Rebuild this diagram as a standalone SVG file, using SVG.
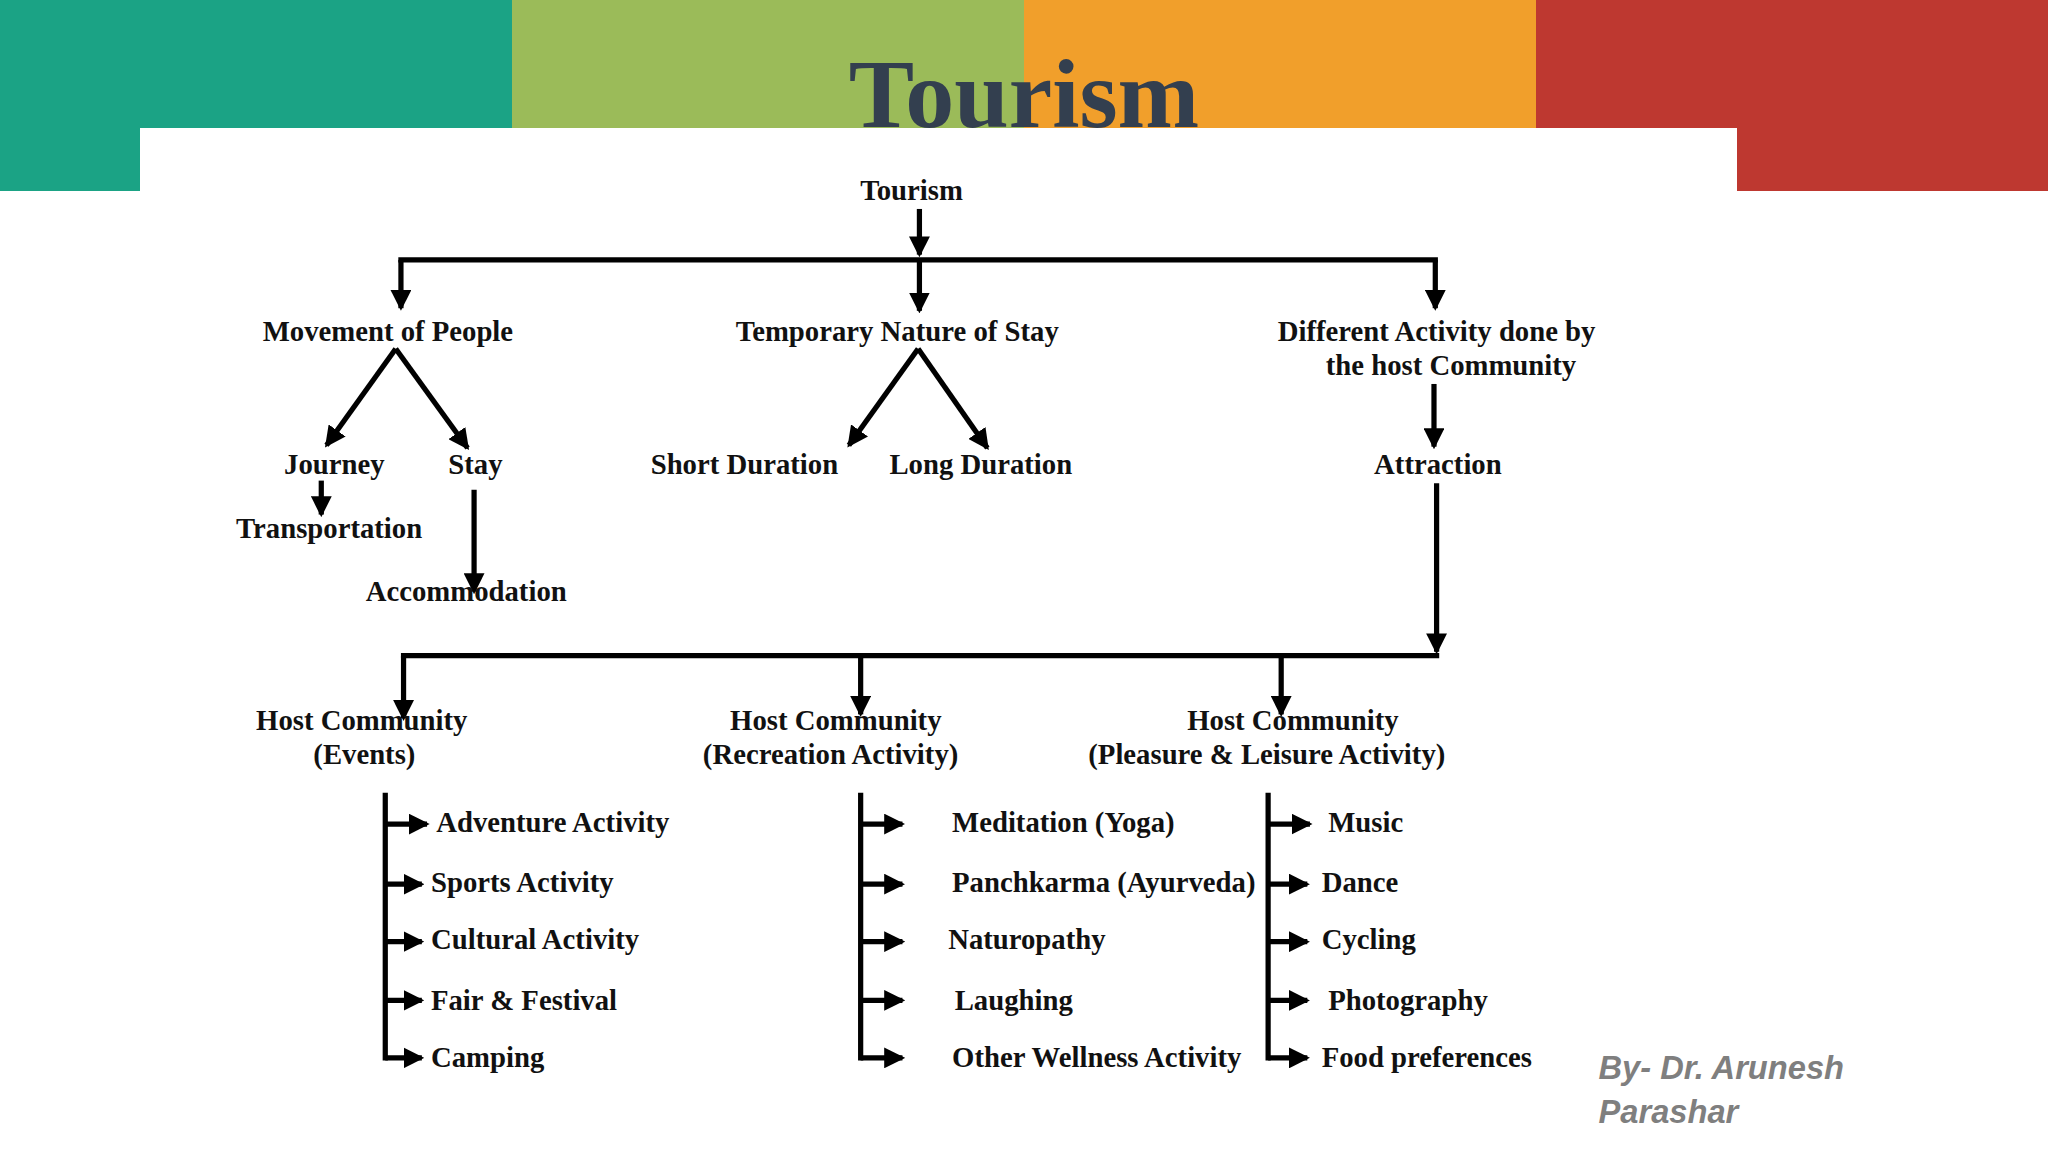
<svg xmlns="http://www.w3.org/2000/svg" width="2048" height="1152" viewBox="0 0 2048 1152">
<defs>
<marker id="ah" markerUnits="userSpaceOnUse" markerWidth="16" markerHeight="16" viewBox="0 0 16 16" refX="14" refY="8" orient="auto"><path d="M0,0 L16,8 L0,16 Z" fill="#000"/></marker>
</defs>
<style>
.t{font-family:"Liberation Serif",serif;font-weight:bold;font-size:22px;fill:#111;text-anchor:middle}
.l{font-family:"Liberation Serif",serif;font-weight:bold;font-size:22px;fill:#111}
.c{stroke:#000;stroke-width:4;fill:none}
.a{stroke:#000;stroke-width:4;fill:none;marker-end:url(#ah)}
</style>
<rect width="2048" height="1152" fill="#fff"/>
<g id="banner">
<rect x="0" y="0" width="512" height="191" fill="#1BA385"/>
<rect x="512" y="0" width="512" height="191" fill="#9BBB59"/>
<rect x="1024" y="0" width="512" height="191" fill="#F19F2B"/>
<rect x="1536" y="0" width="512" height="191" fill="#BE3830"/>
<rect x="140" y="128" width="1597" height="1024" fill="#fff"/>
<text x="1024" y="127" style="font-family:'Liberation Serif',serif;font-weight:bold;font-size:98px;fill:#333F4F;text-anchor:middle">Tourism</text>
</g>
<g transform="scale(1.306)">
<g id="connectors">
<path class="a" d="M704,160 V195"/>
<path class="c" d="M305,199 H1101"/>
<path class="a" d="M307,199 V236"/><path class="a" d="M704,199 V238"/><path class="a" d="M1099,199 V236"/>
<path class="a" d="M303,267 L250,341"/><path class="a" d="M303,267 L358,343"/>
<path class="a" d="M703,267 L650,341"/><path class="a" d="M703,267 L756,343"/>
<path class="a" d="M1098,294 V342"/>
<path class="a" d="M246,368 V394"/>
<path class="a" d="M363,375 V453"/>
<path class="a" d="M1100,370 V499"/>
<path class="c" d="M307,502 H1102"/>
<path class="a" d="M309,502 V550"/><path class="a" d="M659,502 V547"/><path class="a" d="M981,502 V547"/>
<path class="c" d="M295,607 V812"/><path class="c" d="M659,607 V812"/><path class="c" d="M971,607 V812"/>
<path class="a" d="M295,631 H327"/><path class="a" d="M295,677 H323"/><path class="a" d="M295,721 H323"/><path class="a" d="M295,766 H323"/><path class="a" d="M295,810 H323"/>
<path class="a" d="M659,631 H691"/><path class="a" d="M659,677 H691"/><path class="a" d="M659,721 H691"/><path class="a" d="M659,766 H691"/><path class="a" d="M659,810 H691"/>
<path class="a" d="M971,631 H1003"/><path class="a" d="M971,677 H1001"/><path class="a" d="M971,721 H1001"/><path class="a" d="M971,766 H1001"/><path class="a" d="M971,810 H1001"/>
</g>
<g id="n-tourism"><text class="t" x="698" y="153">Tourism</text></g>
<g id="n-movement"><text class="t" x="297" y="261">Movement of People</text></g>
<g id="n-temporary"><text class="t" x="687" y="261">Temporary Nature of Stay</text></g>
<g id="n-different"><text class="t" x="1100" y="261">Different Activity done by</text><text class="t" x="1111" y="287">the host Community</text></g>
<g id="n-journey"><text class="t" x="256" y="363">Journey</text></g>
<g id="n-stay"><text class="t" x="364" y="363">Stay</text></g>
<g id="n-short"><text class="t" x="570" y="363">Short Duration</text></g>
<g id="n-long"><text class="t" x="751" y="363">Long Duration</text></g>
<g id="n-attraction"><text class="t" x="1101" y="363">Attraction</text></g>
<g id="n-transport"><text class="t" x="252" y="412">Transportation</text></g>
<g id="n-accom"><text class="t" x="357" y="460">Accommodation</text></g>
<g id="n-events"><text class="t" x="277" y="559">Host Community</text><text class="t" x="279" y="585">(Events)</text></g>
<g id="n-recreation"><text class="t" x="640" y="559">Host Community</text><text class="t" x="636" y="585">(Recreation Activity)</text></g>
<g id="n-pleasure"><text class="t" x="990" y="559">Host Community</text><text class="t" x="970" y="585">(Pleasure &amp; Leisure Activity)</text></g>
<g id="list-events">
<text class="l" x="334" y="637">Adventure Activity</text>
<text class="l" x="330" y="683">Sports Activity</text>
<text class="l" x="330" y="727">Cultural Activity</text>
<text class="l" x="330" y="773">Fair &amp; Festival</text>
<text class="l" x="330" y="817">Camping</text>
</g>
<g id="list-recreation">
<text class="l" x="729" y="637">Meditation (Yoga)</text>
<text class="l" x="729" y="683">Panchkarma (Ayurveda)</text>
<text class="l" x="726" y="727">Naturopathy</text>
<text class="l" x="731" y="773">Laughing</text>
<text class="l" x="729" y="817">Other Wellness Activity</text>
</g>
<g id="list-pleasure">
<text class="l" x="1017" y="637">Music</text>
<text class="l" x="1012" y="683">Dance</text>
<text class="l" x="1012" y="727">Cycling</text>
<text class="l" x="1017" y="773">Photography</text>
<text class="l" x="1012" y="817">Food preferences</text>
</g>
<g id="byline" style="font-family:'Liberation Sans',sans-serif;font-weight:bold;font-style:italic;font-size:25px;fill:#7F7F7F">
<text x="1224" y="826">By- Dr. Arunesh</text>
<text x="1224" y="860">Parashar</text>
</g>
</g>
</svg>
